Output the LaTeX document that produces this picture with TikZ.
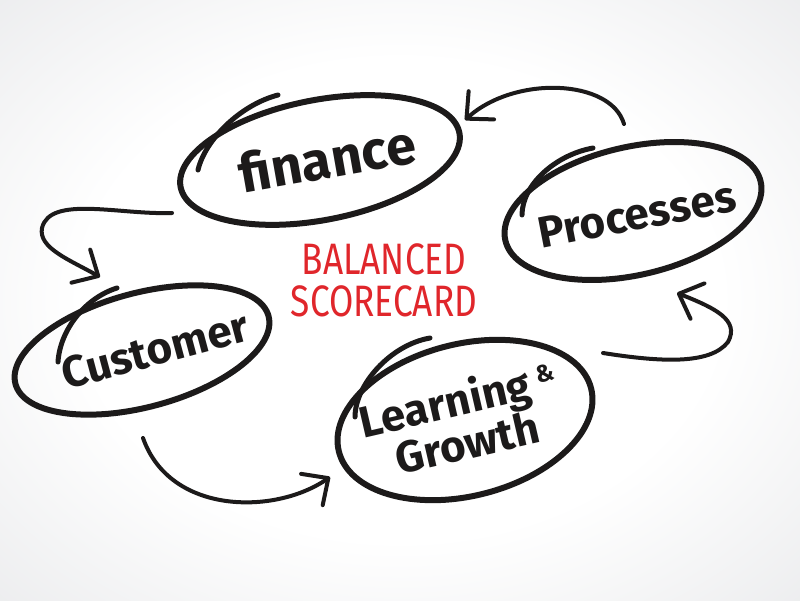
\documentclass[tikz,border=0pt]{standalone}
\usepackage{fontspec}
\setmainfont{Fira Sans}
\usetikzlibrary{arrows.meta,shapes.geometric}
\definecolor{ink}{HTML}{1C1A1A}
\definecolor{redink}{HTML}{E0262B}
\definecolor{bgmid}{HTML}{DCDDE0}
\definecolor{bgedge}{HTML}{CBCCD1}
\pgfdeclareradialshading{bgshade}{\pgfpoint{0bp}{0bp}}{color(0bp)=(white); color(20bp)=(white); color(50bp)=(bgmid); color(71bp)=(bgedge)}
\begin{document}
\begin{tikzpicture}[x=1pt,y=1pt,
  ell/.style={ellipse, draw=ink, line width=6pt, inner sep=0pt, outer sep=0pt},
  lbl/.style={text=ink, font=\bfseries\fontsize{44}{44}\selectfont, inner sep=0pt, align=center},
  conn/.style={draw=ink, line width=4pt, line cap=round, line join=round,
    -{Straight Barb[length=20pt,width=38pt,round]}},
  extra/.style={draw=ink, line width=5pt, line cap=round}]
\useasboundingbox (0,0) rectangle (800,600);
\shade[shading=bgshade] (0,0) rectangle (800,600);

% ellipses
\node[ell, rotate=11, minimum width=284pt, minimum height=120pt] (fin) at (320,440) {};
\node[ell, rotate=13, minimum width=262pt, minimum height=128pt] (pro) at (633,389) {};
\node[ell, rotate=15, minimum width=262pt, minimum height=114pt] (cus) at (142,250) {};
\node[ell, rotate=14, minimum width=260pt, minimum height=152pt] (lrn) at (465,180) {};

% second strokes
\draw[extra] (198,430) .. controls (205,460) and (240,495) .. (278,505);
\draw[extra] (522,385) .. controls (522,415) and (555,445) .. (593,452);
\draw[extra] (58,238) .. controls (60,270) and (85,302) .. (117,312);
\draw[extra] (355,183) .. controls (355,215) and (390,255) .. (430,262);

% labels
\node[lbl, rotate=10, font=\bfseries\fontsize{54}{54}\selectfont] (tfin) at (327,442) {finance};
\node[lbl, rotate=11] (tpro) at (637,385) {Processes};
\node[lbl, rotate=15] (tcus) at (155,250) {Customer};
\node[lbl, rotate=13] (tlrn) at (462,180) {Learning\,\raisebox{14pt}{\fontsize{24}{24}\selectfont\&}\\Growth};
\node[inner sep=0pt, align=center, text=redink, xscale=0.8,
  font=\fontsize{44}{42}\selectfont] (title) at (384,320) {BALANCED\\SCORECARD};

% connectors
\draw[conn] ([shift={(-9,87)}]pro.center) .. controls +(-13,45) and +(50,45) .. ([shift={(145,40)}]fin.center);
\draw[conn] ([shift={(-148,-53)}]fin.center) .. controls +(-52,-2) and (50,405) .. (42,372)
   .. controls (38,352) and +(-30,17) .. ([shift={(-42,73)}]cus.center);
\draw[conn] ([shift={(1,-88)}]cus.center) .. controls +(27,-77) and +(-55,-38) .. ([shift={(-135,-57)}]lrn.center);
\draw[conn] ([shift={(138,67)}]lrn.center) .. controls +(57,-9) and (710,235) .. (728,258)
   .. controls (740,280) and +(38,-15) .. ([shift={(44,-82)}]pro.center);
\end{tikzpicture}
\end{document}
